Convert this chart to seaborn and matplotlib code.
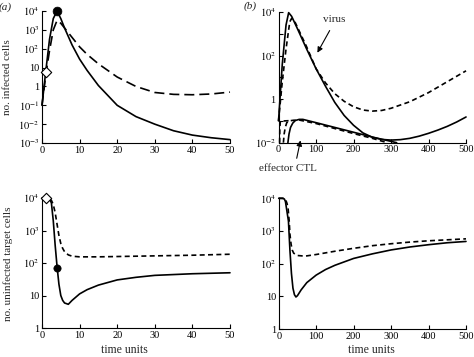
import numpy as np
import pandas as pd
import matplotlib
matplotlib.use("Agg")
import matplotlib.pyplot as plt
from matplotlib.ticker import FixedLocator, FixedFormatter, NullLocator
import seaborn as sns

sns.set_theme(style="ticks")
plt.rcParams['font.family'] = ['Liberation Serif', 'DejaVu Serif']
plt.rcParams['mathtext.fontset'] = 'stix'

# values are log10 of cell numbers
# (a) infected cells
a_t = [0, 1, 2, 3, 4, 5, 6, 8, 10, 12, 15, 20, 25, 30, 35, 40, 45, 50]
a_inf_solid = [-1.0, 0.8, 2.5, 3.6, 4.0, 3.6, 3.1, 2.2, 1.45, 0.85, 0.05, -1.0, -1.6, -2.0, -2.35, -2.58, -2.72, -2.82]
a_inf_dash = [-1.0, 0.6, 1.9, 3.0, 3.5, 3.35, 3.1, 2.6, 2.1, 1.7, 1.2, 0.5, 0.0, -0.32, -0.42, -0.44, -0.4, -0.3]
a_diamond = (1, 0.78)
a_dot = (4, 4.0)

# (a) uninfected target cells
a_tgt_t = [0, 1, 2, 2.5, 3, 3.5, 4, 4.5, 5, 5.5, 6, 7, 8, 10, 12, 15, 20, 25, 30, 40, 50]
a_tgt_solid = [4.0, 4.0, 3.97, 3.85, 3.3, 2.55, 1.9, 1.35, 1.0, 0.85, 0.77, 0.73, 0.85, 1.05, 1.18, 1.32, 1.48, 1.56, 1.62, 1.67, 1.7]
a_tgt_dash = [4.0, 4.0, 3.98, 3.93, 3.8, 3.55, 3.2, 2.85, 2.6, 2.45, 2.35, 2.25, 2.21, 2.19, 2.19, 2.19, 2.2, 2.21, 2.22, 2.24, 2.27]
a_tgt_diamond = (1, 4.0)
a_tgt_dot = (4, 1.84)

# (b) virus and effector CTL
b_t = [0, 10, 20, 27, 35, 50, 75, 100, 125, 150, 175, 200, 225, 250, 275, 300, 325, 350, 375, 400, 425, 450, 475, 500]
b_vir_solid = [-1.0, 1.6, 3.4, 3.97, 3.8, 3.25, 2.3, 1.4, 0.6, -0.15, -0.75, -1.2, -1.55, -1.75, -1.85, -1.88, -1.86, -1.8, -1.7, -1.57, -1.42, -1.25, -1.05, -0.82]
b_vir_t_dash = [0, 10, 20, 30, 35, 45, 60, 75, 100, 125, 150, 175, 200, 225, 250, 275, 300, 350, 400, 450, 500]
b_vir_dash = [-1.0, 0.8, 2.3, 3.55, 3.71, 3.5, 2.95, 2.4, 1.4, 0.75, 0.25, -0.1, -0.35, -0.5, -0.55, -0.52, -0.42, -0.12, 0.3, 0.8, 1.3]
b_ctl_t_solid = [25, 28, 32, 38, 45, 55, 65, 100, 150, 200, 250, 300, 315]
b_ctl_solid = [-2.0, -1.6, -1.3, -1.1, -0.98, -0.93, -0.93, -1.08, -1.3, -1.52, -1.74, -1.94, -2.0]
b_ctl_t_dash = [13, 15, 18, 22, 28, 40, 55, 100, 150, 200, 250, 290]
b_ctl_dash = [-2.0, -1.6, -1.3, -1.08, -1.0, -0.97, -0.96, -1.12, -1.35, -1.58, -1.8, -2.0]
b_ctl_t_early = [3, 3.5, 5, 15, 28]
b_ctl_early = [-2.0, -1.3, -1.0, -1.0, -0.99]

# (b) uninfected target cells
b_tgt_t_solid = [0, 10, 15, 18, 22, 26, 30, 34, 38, 42, 46, 50, 60, 75, 100, 125, 150, 200, 250, 300, 350, 400, 450, 500]
b_tgt_solid = [4.0, 4.0, 3.98, 3.9, 3.6, 3.3, 2.4, 1.7, 1.25, 1.05, 0.98, 1.02, 1.2, 1.42, 1.65, 1.82, 1.95, 2.16, 2.3, 2.42, 2.51, 2.58, 2.64, 2.68]
b_tgt_t_dash = [0, 15, 18, 22, 25, 28, 30, 33, 36, 40, 50, 70, 100, 150, 200, 250, 300, 350, 400, 450, 500]
b_tgt_dash = [4.0, 4.0, 3.97, 3.85, 3.7, 3.3, 2.9, 2.6, 2.42, 2.32, 2.25, 2.23, 2.28, 2.38, 2.47, 2.55, 2.61, 2.66, 2.7, 2.73, 2.76]

DEC_LABELS = {4: '$10^{4}$', 3: '$10^{3}$', 2: '$10^{2}$', 1: '10', 0: '1',
              -1: '$10^{-1}$', -2: '$10^{-2}$', -3: '$10^{-3}$'}


def draw(ax, t, logv, dashes=None):
    df = pd.DataFrame({'t': t, 'v': 10.0 ** np.asarray(logv)})
    sns.lineplot(data=df, x='t', y='v', ax=ax, color='black', lw=1.2,
                 estimator=None, sort=False)
    line = ax.lines[-1]
    if dashes is not None:
        line.set_dashes(dashes)
    line.set_clip_on(False)


def style(ax, xmax, xstep, lo, hi, shown):
    ax.set_yscale('log')
    ax.set_xlim(0, xmax)
    ax.set_ylim(10.0 ** lo, 10.0 ** hi)
    decs = list(range(lo, hi + 1))
    ax.yaxis.set_major_locator(FixedLocator([10.0 ** d for d in decs]))
    ax.yaxis.set_major_formatter(FixedFormatter([DEC_LABELS[d] if d in shown else '' for d in decs]))
    ax.yaxis.set_minor_locator(NullLocator())
    ax.set_xticks(np.arange(0, xmax + 1, xstep))
    ax.tick_params(direction='in', length=3, width=0.8, labelsize=7.5, pad=2, colors='black')
    for s in ['left', 'bottom']:
        ax.spines[s].set_linewidth(0.8)
        ax.spines[s].set_color('black')
    sns.despine(ax=ax)
    ax.set_xlabel('')
    ax.set_ylabel('')


fig = plt.figure(figsize=(4.74, 3.57), dpi=100)
ax_tl = fig.add_axes([0.0886, 0.5994, 0.3966, 0.3697])
ax_tr = fig.add_axes([0.5876, 0.6003, 0.3956, 0.3661])
ax_bl = fig.add_axes([0.0886, 0.0812, 0.3966, 0.3641])
ax_br = fig.add_axes([0.5880, 0.0784, 0.3951, 0.3661])

for ax in [ax_tl, ax_tr, ax_bl, ax_br]:
    ax.set_yscale('log')

# (a) infected
draw(ax_tl, a_t, a_inf_solid)
draw(ax_tl, a_t, a_inf_dash, dashes=(6, 3))
sns.scatterplot(x=[a_diamond[0]], y=[10 ** a_diamond[1]], ax=ax_tl, marker='D', s=28,
                color='white', edgecolor='black', linewidth=0.8, zorder=5, clip_on=False)
sns.scatterplot(x=[a_dot[0]], y=[10 ** a_dot[1]], ax=ax_tl, marker='o', s=40,
                color='black', edgecolor='black', zorder=5, clip_on=False)
style(ax_tl, 50, 10, -3, 4, range(-3, 5))

# (b) virus + CTL
draw(ax_tr, b_t, b_vir_solid)
draw(ax_tr, b_vir_t_dash, b_vir_dash, dashes=(3, 2))
draw(ax_tr, b_ctl_t_solid, b_ctl_solid)
draw(ax_tr, b_ctl_t_dash, b_ctl_dash, dashes=(3, 2))
draw(ax_tr, b_ctl_t_early, b_ctl_early, dashes=(3, 2))
style(ax_tr, 500, 100, -2, 4, [-2, 0, 2, 4])
ax_tr.text(149, 10 ** 3.67, 'virus', fontsize=8, ha='center', va='center')
ax_tr.annotate('', xy=(100, 10 ** 2.02), xytext=(140, 10 ** 3.26),
               arrowprops=dict(arrowstyle='-|>', color='black', lw=0.8, mutation_scale=8))
ax_tr.text(24, 10 ** -3.2, 'effector CTL', fontsize=8, ha='center', va='center')
ax_tr.annotate('', xy=(60, 10 ** -1.77), xytext=(47, 10 ** -2.84), annotation_clip=False,
               arrowprops=dict(arrowstyle='-|>', color='black', lw=0.8, mutation_scale=8))

# (a) target cells
draw(ax_bl, a_tgt_t, a_tgt_solid)
draw(ax_bl, a_tgt_t, a_tgt_dash, dashes=(3, 2))
sns.scatterplot(x=[a_tgt_diamond[0]], y=[10 ** a_tgt_diamond[1]], ax=ax_bl, marker='D', s=28,
                color='white', edgecolor='black', linewidth=0.8, zorder=5, clip_on=False)
sns.scatterplot(x=[a_tgt_dot[0]], y=[10 ** a_tgt_dot[1]], ax=ax_bl, marker='o', s=28,
                color='black', edgecolor='black', zorder=5, clip_on=False)
style(ax_bl, 50, 10, 0, 4, range(0, 5))

# (b) target cells
draw(ax_br, b_tgt_t_solid, b_tgt_solid)
draw(ax_br, b_tgt_t_dash, b_tgt_dash, dashes=(3, 2))
style(ax_br, 500, 100, 0, 4, range(0, 5))

W, H = 474, 357
fig.text(-1 / W, 1 - 7 / H, '(a)', fontsize=8, style='italic', ha='left', va='center')
fig.text(244 / W, 1 - 6 / H, '(b)', fontsize=8, style='italic', ha='left', va='center')
fig.text(8 / W, 1 - 77 / H, 'no. infected cells', fontsize=8, rotation=90, ha='center', va='center')
fig.text(8 / W, 1 - 264 / H, 'no. uninfected target cells', fontsize=8, rotation=90, ha='center', va='center')
fig.text(124 / W, 1 - 350 / H, 'time units', fontsize=8.5, ha='center', va='center')
fig.text(371 / W, 1 - 350 / H, 'time units', fontsize=8.5, ha='center', va='center')

fig.savefig('out.png', dpi=100)
